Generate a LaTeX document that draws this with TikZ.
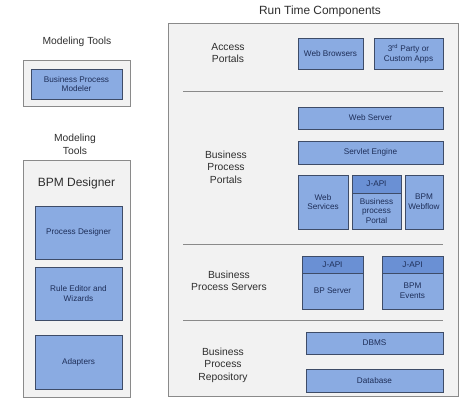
\documentclass[tikz,border=0pt]{standalone}
\usepackage{fontspec}
\setmainfont{Liberation Sans}
\usepackage{tikz}
\usetikzlibrary{positioning}
\usepackage{xcolor}
\definecolor{paneback}{HTML}{F2F2F2}
\definecolor{paneline}{HTML}{8A8A8A}
\definecolor{blkfill}{HTML}{8AABE2}
\definecolor{hdrfill}{HTML}{6A90D4}
\definecolor{blkline}{HTML}{3E4C68}
\definecolor{blktext}{HTML}{1E2E58}
\definecolor{lbltext}{HTML}{2E2E2E}
\tikzset{
  panel/.style={draw=paneline, fill=paneback, line width=0.8pt, inner sep=0pt},
  blk/.style={draw=blkline, fill=blkfill, line width=0.7pt, inner sep=1pt,
    text=blktext, align=center, font=\fontsize{8.2}{9.8}\selectfont},
  hdr/.style={blk, fill=hdrfill},
  lbl/.style={text=lbltext, align=center, font=\fontsize{10.3}{12.4}\selectfont},
  sep/.style={draw=paneline, line width=0.8pt}
}
\begin{document}
\begin{tikzpicture}[x=1pt,y=-1pt]
\useasboundingbox (0,0) rectangle (474,412);
% left side
\node[lbl] (mtitle) at (77,42) {Modeling Tools};
\node[panel,minimum width=107,minimum height=46] (mpane) at (76.5,83) {};
\node[blk,minimum width=91,minimum height=30] (modeler) at (76.5,84) {Business Process\\Modeler};
\node[lbl] (dtitle) at (75,144.5) {Modeling\\Tools};
\node[panel,minimum width=107,minimum height=237] (dpane) at (76.5,278.5) {};
\node[lbl,font=\fontsize{12}{14}\selectfont] (dname) at (76.5,183) {BPM Designer};
\node[blk,minimum width=87,minimum height=53] (pdes) at (78.5,232.5) {Process Designer};
\node[blk,minimum width=87,minimum height=53] (rule) at (78.5,293.5) {Rule Editor and\\Wizards};
\node[blk,minimum width=87,minimum height=54] (adapt) at (78.5,362) {Adapters};
% run time side
\node[lbl,font=\fontsize{11.9}{14}\selectfont] (rtitle) at (320,11) {Run Time Components};
\node[panel,minimum width=290,minimum height=373] (rpane) at (313,209.5) {};
\node[lbl] (access) at (228,53) {Access\\Portals};
\node[blk,minimum width=65,minimum height=31] (browsers) at (330.5,53.5) {Web Browsers};
\node[blk,minimum width=69,minimum height=31] (apps) at (408.5,53.5) {3\textsuperscript{rd} Party or\\Custom Apps};
\draw[sep] (183,91) -- (443,91);
\node[lbl] (portals) at (226,167) {Business\\Process\\Portals};
\node[blk,minimum width=145,minimum height=22] (wserver) at (370.5,118) {Web Server};
\node[blk,minimum width=145,minimum height=23] (servlet) at (370.5,152.5) {Servlet Engine};
\node[blk,minimum width=50,minimum height=54] (wservices) at (323,202) {Web\\Services};
\node[hdr,minimum width=49,minimum height=18] (japi) at (376.5,184) {J-API};
\node[blk,minimum width=49,minimum height=36] (bpportal) at (376.5,211) {Business\\process\\Portal};
\node[blk,minimum width=38,minimum height=54] (webflow) at (424,202) {BPM\\Webflow};
\draw[sep] (183,244) -- (443,244);
\node[lbl] (servers) at (229,281) {Business\\Process Servers};
\node[hdr,minimum width=61,minimum height=17] (japia) at (332.5,264.5) {J-API};
\node[blk,minimum width=61,minimum height=36] (bpserver) at (332.5,291) {BP Server};
\node[hdr,minimum width=61,minimum height=17] (japib) at (412.5,264.5) {J-API};
\node[blk,minimum width=61,minimum height=36] (events) at (412.5,291) {BPM\\Events};
\draw[sep] (183,320) -- (443,320);
\node[lbl] (repo) at (223,365) {Business\\Process\\Repository};
\node[blk,minimum width=137,minimum height=22] (dbms) at (374.5,343) {DBMS};
\node[blk,minimum width=137,minimum height=23] (dbase) at (374.5,380.5) {Database};
\end{tikzpicture}
\end{document}
